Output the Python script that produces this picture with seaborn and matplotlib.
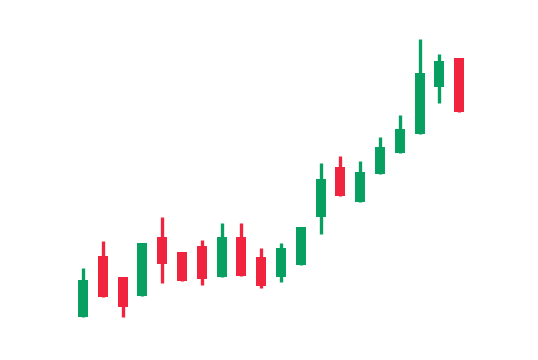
import numpy as np
import pandas as pd
import matplotlib
matplotlib.use("Agg")
import matplotlib.pyplot as plt
import seaborn as sns

# Candle data (arbitrary price units)
opens  = [43, 104, 83, 64, 123, 108, 114, 83, 123, 103, 83, 95, 143, 193, 158, 186, 207, 226, 273, 302]
highs  = [92, 119, 83, 117, 143, 108, 120, 137, 137, 112, 117, 133, 197, 204, 199, 223, 245, 321, 306, 302]
lows   = [43, 63, 43, 64, 77, 79, 75, 83, 84, 72, 78, 95, 126, 164, 158, 186, 207, 226, 257, 248]
closes = [80, 63, 53, 117, 96, 79, 81, 123, 84, 74, 112, 133, 181, 164, 188, 213, 231, 287, 299, 248]

UP = "#08a060"
DOWN = "#f0243e"

df = pd.DataFrame({"open": opens, "high": highs, "low": lows, "close": closes})
df["idx"] = np.arange(len(df))
df["up"] = df["close"] >= df["open"]
df["color"] = np.where(df["up"], UP, DOWN)
df["bottom"] = df[["open", "close"]].min(axis=1)
df["height"] = (df["open"] - df["close"]).abs()

sns.set_theme(style="white")
fig = plt.figure(figsize=(5.38, 3.6), dpi=100)
ax = fig.add_axes([0, 0, 1, 1])

ax.vlines(df["idx"], df["low"], df["high"], colors=df["color"], linewidth=2.4, zorder=1)
ax.bar(df["idx"], df["height"], bottom=df["bottom"], width=0.5, color=df["color"],
       edgecolor="none", zorder=2)

spacing = 19.8
ax.set_xlim(-83 / spacing, -83 / spacing + 538 / spacing)
ax.set_ylim(0, 360)
ax.axis("off")
sns.despine(ax=ax, left=True, bottom=True)

fig.savefig("out.png", dpi=100, facecolor="white")
